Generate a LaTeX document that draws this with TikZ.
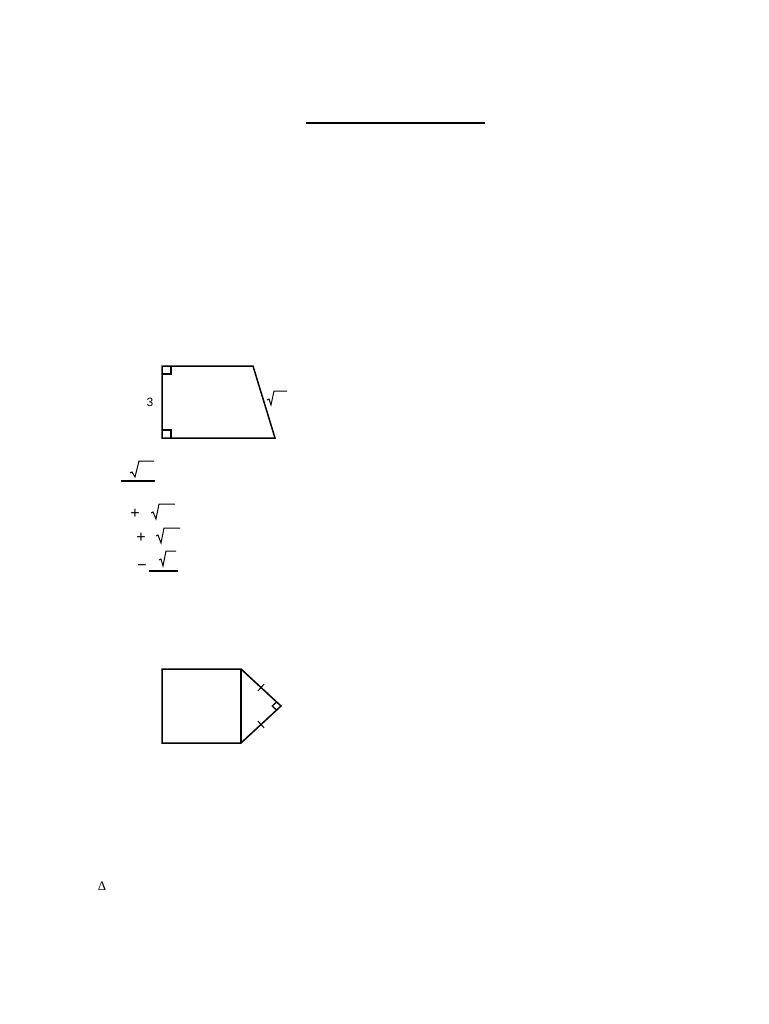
\documentclass[tikz,border=0pt]{standalone}
\usepackage{fontspec}
\usetikzlibrary{calc}
\setmainfont{Liberation Sans}
\newfontfamily\serifff{Liberation Serif}
\begin{document}
\begin{tikzpicture}[x=1pt,y=-1pt,
  edge/.style={line width=1.5pt, line join=miter},
  thin/.style={line width=1pt},
  rmark/.style={line width=1.3pt},
  lbl/.style={inner sep=0pt, font=\fontsize{12}{14}\selectfont},
  sym/.style={inner sep=0pt, font=\fontsize{16}{16}\selectfont}]
\useasboundingbox[fill=white] (0,0) rectangle (768,1024);
% title line
\coordinate (t1) at (306,123); \coordinate (t2) at (485,123);
\draw[line width=2.7pt] (t1) -- (t2);
% trapezoid
\coordinate (A) at (162,366); \coordinate (B) at (253,366);
\coordinate (C) at (275,438); \coordinate (D) at (162,438);
\draw[edge] (A) -- (B) -- (C) -- (D) -- cycle;
\draw[rmark] (162,374) -- (171,374) -- (171,366);
\draw[rmark] (162,430) -- (171,430) -- (171,438);
\node[lbl] (three) at (150,402) {3};
\draw[thin] (267,400) -- (269,399) -- (271,405) -- (274,391) -- (287,391);
% fraction 1
\draw[thin] (130,473) -- (132,472) -- (135,477) -- (139,461) -- (154,461);
\draw[edge] (121,481) -- (155,481);
% line 2
\node[sym] (p1) at (135,514) {+};
\draw[thin] (151,513) -- (153,512) -- (156,519) -- (159,504) -- (175,504);
% line 3
\node[sym] (p2) at (141,538) {+};
\draw[thin] (156,536) -- (158,535) -- (161,543) -- (164,528) -- (180,528);
% line 4
\node[sym] (m1) at (142,568) {−};
\draw[thin] (159,560) -- (161,559) -- (163,566) -- (166,551) -- (176,551);
\draw[edge] (149,571) -- (178,571);
% pentagon
\coordinate (P1) at (162,669); \coordinate (P2) at (241,669);
\coordinate (P3) at (281,706); \coordinate (P4) at (241,743);
\coordinate (P5) at (162,743);
\draw[edge] (P1) -- (P2) -- (P3) -- (P4) -- (P5) -- cycle;
\draw[edge] (P2) -- (P4);
% tick marks
\draw[thin] ($(P2)!0.5!(P3)$) ++(-3.2,3.5) -- ++(6.4,-7);
\draw[thin] ($(P3)!0.5!(P4)$) ++(-3.2,-3.5) -- ++(6.4,7);
% right angle mark
\draw[rmark] (276.6,701.9) -- (272.2,706) -- (276.6,710.1);
% delta
\node[inner sep=0pt, font=\serifff\fontsize{13}{14}\selectfont] (delta) at (102,886) {Δ};
\end{tikzpicture}
\end{document}
